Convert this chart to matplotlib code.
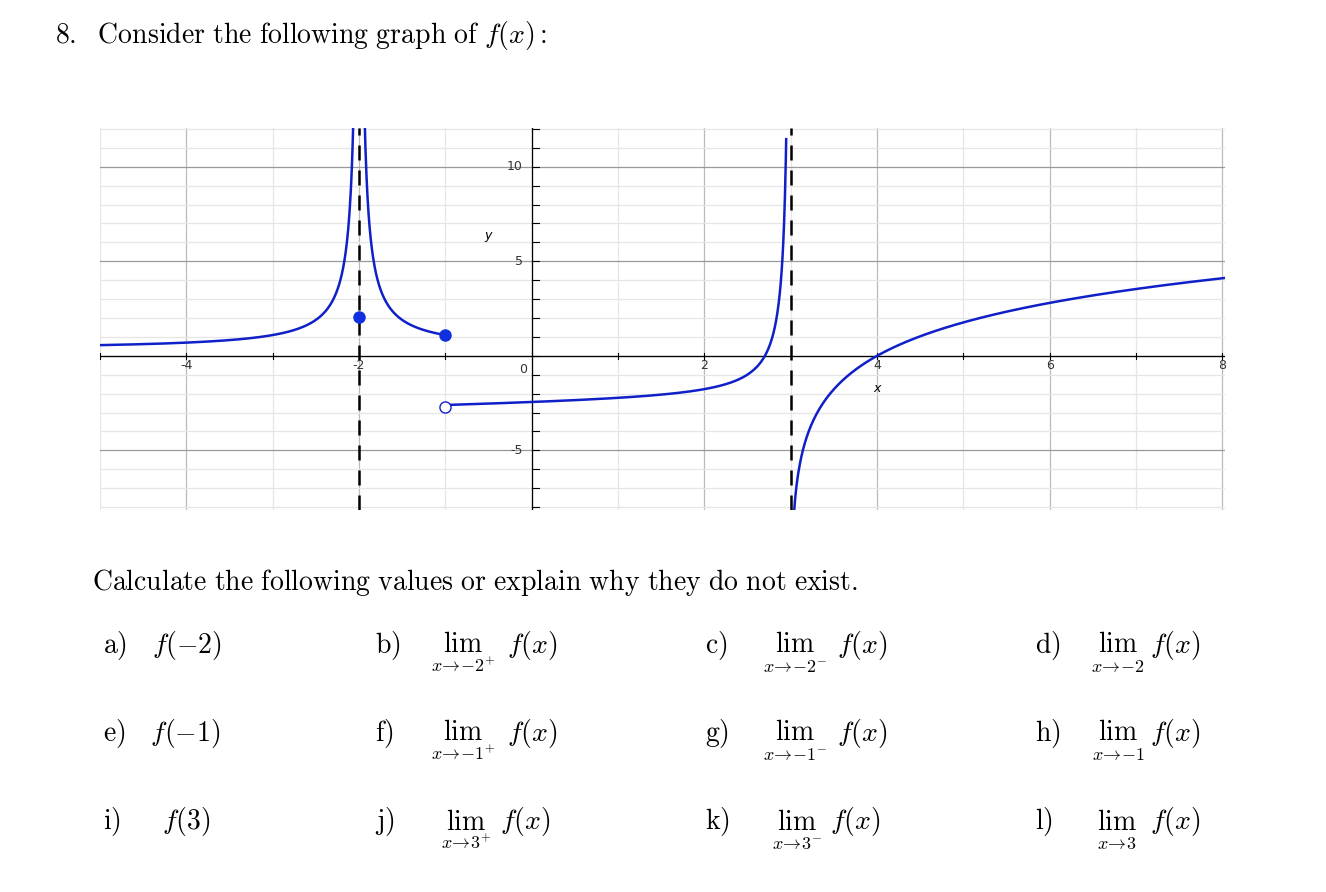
import numpy as np
import matplotlib
matplotlib.use("Agg")
import matplotlib.pyplot as plt

plt.rcParams['mathtext.fontset'] = 'cm'
plt.rcParams['font.family'] = ['DejaVu Serif']

asymptotes = [-2, 3]
closed_pts_x = [-2, -1]
closed_pts_y = [2.05, 1.1]
open_pts_x = [-1]
open_pts_y = [-2.7]
xticks = [-4, -2, 0, 2, 4, 6, 8]
yticks = [-5, 5, 10]

def left_piece(x):
    return 0.3 + 0.8 / np.abs(x + 2)

def mid_piece(x):
    return -2.6 + 0.1 * (x + 1) + 0.72 / (3 - x) - 0.18

def right_piece(x):
    return 2.55 * np.log(x - 3)

fig = plt.figure(figsize=(13.26, 8.92), dpi=100)
ax = fig.add_axes([0.0754, 0.4283, 0.8484, 0.4282])
ax.set_xlim(-5, 8.03)
ax.set_ylim(-8.15, 12.05)

for v in np.arange(-5, 9, 1):
    ax.axvline(v, color='#bbbbbb' if v % 2 == 0 else '#e6e6e6', lw=0.9, zorder=0)
for v in np.arange(-8, 13, 1):
    ax.axhline(v, color='#999999' if v % 5 == 0 else '#e6e6e6', lw=0.9, zorder=0)

ax.axhline(0, color='black', lw=0.9, zorder=1)
ax.axvline(0, color='black', lw=0.9, zorder=1)
for v in np.arange(-5, 9, 1):
    ax.plot([v, v], [-0.15, 0.15], color='black', lw=0.8)
for v in np.arange(-8, 13, 1):
    ax.plot([0, 0.08], [v, v], color='black', lw=0.8)

for v in asymptotes:
    ax.axvline(v, color='black', ls=(0, (6, 4)), lw=1.8, zorder=2)

xl = np.linspace(-5, -2.066, 400)
ax.plot(xl, left_piece(xl), color='#1020c8', lw=1.8, zorder=3)
xl2 = np.linspace(-1.934, -1, 400)
ax.plot(xl2, left_piece(xl2), color='#1020c8', lw=1.8, zorder=3)
xm = np.linspace(-1, 2.948, 800)
ax.plot(xm, mid_piece(xm), color='#1020c8', lw=1.8, zorder=3)
xr = np.linspace(3.038, 8.03, 800)
ax.plot(xr, right_piece(xr), color='#1020c8', lw=1.8, zorder=3)

ax.plot(closed_pts_x, closed_pts_y, 'o', color='#1030e0', ms=8, zorder=4)
ax.plot(open_pts_x, open_pts_y, 'o', mfc='white', mec='#1020c8', ms=8, zorder=4)

for t in xticks:
    if t == 0:
        continue
    ax.text(t, -0.5, str(t), ha='center', va='center', fontsize=9,
            family='DejaVu Sans', color='#333333')
for t in yticks:
    ax.text(-0.1, t, str(t), ha='right', va='center', fontsize=9,
            family='DejaVu Sans', color='#333333')
ax.text(-0.05, -0.7, '0', ha='right', va='center', fontsize=9, family='DejaVu Sans', color='#333333')
ax.text(-0.55, 6.2, 'y', fontsize=9, style='italic', family='DejaVu Sans')
ax.text(4.0, -1.9, 'x', fontsize=9, style='italic', family='DejaVu Sans', ha='center')
ax.set_xticks([]); ax.set_yticks([])
for s in ax.spines.values():
    s.set_visible(False)

W, H = 1326, 892
def T(x, y, s, **kw):
    fig.text(x / W, 1 - y / H, s, va='center', fontsize=kw.pop('fs', 19), **kw)

def rm(s):
    return r'\mathrm{' + s.replace(' ', r'\ ') + '}'

T(55, 36, '$' + rm('8.  Consider the following graph of') + r'\ f(x)' + rm(':') + '$', fs=20)
T(92, 582, '$' + rm('Calculate the following values or explain why they do not exist.') + '$', fs=20)

T(103, 645, r'$\mathrm{a)}\ \ \ f(-2)$', fs=20)
T(103, 733, r'$\mathrm{e)}\ \ \ f(-1)$', fs=20)
T(103, 822, r'$\mathrm{i)}\ \ \ \ \ f(3)$', fs=20)

lims = [
    (375, 645, 463, 507, r'$x\!\rightarrow\!{-}2^{+}$', 'b)'),
    (705, 645, 795, 837, r'$x\!\rightarrow\!{-}2^{-}$', 'c)'),
    (1035, 645, 1118, 1150, r'$x\!\rightarrow\!{-}2$', 'd)'),
    (375, 733, 463, 507, r'$x\!\rightarrow\!{-}1^{+}$', 'f)'),
    (705, 733, 795, 837, r'$x\!\rightarrow\!{-}1^{-}$', 'g)'),
    (1035, 733, 1118, 1150, r'$x\!\rightarrow\!{-}1$', 'h)'),
    (375, 822, 466, 500, r'$x\!\rightarrow\!3^{+}$', 'j)'),
    (705, 822, 797, 830, r'$x\!\rightarrow\!3^{-}$', 'k)'),
    (1035, 822, 1117, 1150, r'$x\!\rightarrow\!3$', 'l)'),
]
for lx, y, cx, fx, sub, lab in lims:
    T(lx, y, r'$\mathrm{' + lab + '}$', fs=20)
    T(cx, y, r'$\mathrm{lim}$', ha='center', fs=20)
    T(fx, y, r'$f(x)$', fs=20)
    T(cx, y + 22, sub, ha='center', fs=13)

fig.savefig('out.png', dpi=100)
